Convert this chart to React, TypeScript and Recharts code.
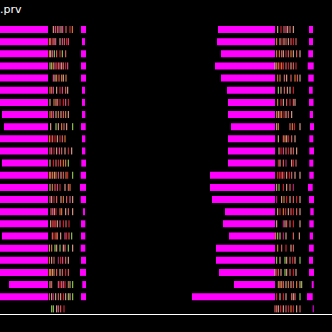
import { ComposedChart, Bar, XAxis, YAxis } from 'recharts';

// row labels (top to bottom)
const rowIds = [
  'r01', 'r02', 'r03', 'r04', 'r05', 'r06', 'r07', 'r08', 'r09', 'r10', 'r11', 'r12',
  'r13', 'r14', 'r15', 'r16', 'r17', 'r18', 'r19', 'r20', 'r21', 'r22', 'r23', 'r24',
];

const LEFT_END = 48;
const RIGHT_END = 275;
const leftTickBand = [48, 76];
const rightTickBand = [275, 303];

const leftBarStart = [0, 0, 0, 0, 0, 0, 0, 2, 4, 0, 0, 2, 0, 0, 0, 0, 0, 2, 0, 0, 0, 9, 0, null];
const rightBarStart = [
  218, 217, 221, 215, 221, 227, 228, 228, 231, 228, 228, 228,
  210, 210, 212, 225, 223, 229, 216, 216, 219, 234, 192, null,
];

const leftSqStart = [81, 82, 81, 81, 81, 82, 82, 82, 81, 82, 82, 81.3, 80.7, 80, 80.7, 83, 81, 81, 80.7, 81, 80, 82.3, 81, null];
const leftSqEnd = [86, 85, 86, 86, 86, 85, 85, 85.3, 85.7, 85.3, 85.3, 86, 86, 86, 86, 85, 85.3, 85.3, 85.3, 86, 86, 86, 86, null];
const rightSqStart = [309, 309, 308.3, 307.7, 308.3, 309, 309, 309.7, 310, 309.3, 309.3, 309.3, 309.3, 308, 309, 310.3, 309.3, 309.7, 309, 309, 309, 311.7, 307, 312.7];
const rightSqEnd = [313, 313, 313, 313.7, 313.7, 312.7, 313.5, 313, 314, 313.3, 314, 313.3, 313.7, 312.7, 314, 313.7, 313.7, 313, 313.7, 313, 314, 313.7, 312.7, 313.7];

const leftTickX = [
  [53.3, 55.3, 57.3, 59, 61, 62.7, 66, 70, 72.3],
  [49.3, 50.7, 52.3, 54, 55.7, 60, 62.3, 64.3, 66.7, 68.3],
  [49.3, 50.7, 52.3, 54.3, 56.7, 60, 62.3, 65.7],
  [50, 51.7, 53.3, 55, 56.7, 58.3, 60, 61.7, 63.3, 65.7, 67.7],
  [53.3, 55, 56.7, 59, 61.7, 63.3, 66],
  [50, 51.7, 53.3, 56.7, 60, 62.3, 65.7, 67.7],
  [50, 54, 56, 57.7, 60, 63.3, 65.7, 68.3],
  [50, 51.7, 53.3, 56, 58.3, 61, 63.3, 65.7, 68.3],
  [50.7, 56, 58.3, 61.7, 64, 66.7, 72.7],
  [49.3, 51, 52.7, 55, 57.3, 60, 62.3, 65],
  [50, 51.7, 54, 56.7, 59.3, 61.7, 65, 68.3, 71.7],
  [50, 53.3, 56, 58.3, 60.7, 63.3, 65.7, 68.3],
  [49.3, 50.7, 52.3, 54.3, 56, 58.3, 61, 63.3, 66, 67.7, 72.7],
  [50, 52.3, 55, 57.3, 60, 65, 68.3, 70],
  [50, 51.7, 54, 56.7, 61, 63.3, 66.7, 70, 72.7],
  [51, 52.7, 54.3, 56, 60, 61.7, 65.7, 68.3, 72.7],
  [50.7, 52.3, 54, 55.7, 57.3, 60, 63.3, 66, 69],
  [52.3, 54, 56, 57.3, 60.7, 65, 66.7, 69, 71.7],
  [49.3, 51.7, 55, 56.7, 60, 63.3, 65, 68.3, 72.7],
  [49.3, 51.7, 54, 58.3, 60.7, 62.7, 65.7, 68.3],
  [49.3, 50.7, 52.3, 54, 56.7, 60, 62.3, 65.7, 68.3],
  [50, 51.7, 58.3, 60, 61.7, 63.3, 65, 68.3, 70, 72.7],
  [49.3, 51.7, 53.3, 55.7, 58.3, 60.7, 63.3, 65.7, 68.3, 70, 72.7],
  [51.7, 53.3, 56.7, 58.3, 60.7, 64],
];
const leftTickC = [
  'cpspcpsro', 'osrcpcpsrp', 'ocpgsrgs', 'cgoprspcsrp', 'pcosoco', 'ospcrpsc',
  'cocsrrpr', 'ospcocsoc', 'cgcoscg', 'orsrcrso', 'sprcpscrc', 'crsrsoog',
  'osocopcsorg', 'cosprcso', 'pcrscospc', 'spcrsocsc', 'crsrcprsr', 'sroscprsg',
  'cogcgcsgc', 'ocsmrpsc', 'oocoscsrs', 'csprsprsgg', 'pcmcscrcgcg', 'ggcpsr',
];

const rightTickX = [
  [277.7, 281, 284, 286, 287.7, 290, 293.3],
  [276.7, 280, 282, 284, 286, 288.3, 291, 293.3, 296],
  [276.7, 279.3, 281.7, 283.3, 286, 288.3, 291, 293.3, 296.7, 300],
  [275, 276.7, 278.3, 280, 281.7, 283.3, 286, 288.3, 291, 293.3, 296],
  [277.7, 280, 284.3, 286.7, 291, 295, 297.3, 300],
  [278.3, 281, 284.3, 287.3, 290, 293.3],
  [277.7, 281, 283.3, 286.7, 290, 293.3, 295],
  [276.7, 278.3, 280, 281.7, 284, 286, 288.3, 291.7],
  [276.7, 278.3, 290, 292.3, 294.3, 300],
  [278.3, 283.3, 285, 286.7, 288.3, 291.7, 295],
  [279, 281, 283.3, 286, 288.3, 291, 293.3, 296.7],
  [278.3, 280, 283.3, 286, 291.7, 293.3, 296],
  [277.7, 279.3, 281, 282.3, 284, 286.7, 289.3, 291.7, 295, 300],
  [276.7, 279, 283.3, 286.7, 290, 293.3],
  [276.7, 281.7, 284, 286.7, 290, 293.3, 296.7, 300],
  [277.7, 280, 283.3, 285.7, 288.3, 291, 293.3, 296.7, 300],
  [276.7, 283.3, 285, 286.7, 290, 293.3, 300],
  [275.7, 277.7, 280, 283.3, 286, 293.3, 299.3],
  [277.7, 281.7, 286, 291, 293.3],
  [276.7, 280, 285, 286.7, 290, 292.7, 295, 300],
  [275, 276.7, 278.3, 281, 285, 286.7, 290, 293.3, 296],
  [278.3, 280, 281.7, 283.3, 286, 288.3, 291, 293.3, 296.7, 300, 301.7],
  [276.7, 280, 283.3, 286, 291.7, 293.3, 295, 300],
  [275, 276.7, 278.3, 280.7, 283.3, 286, 288.3, 291, 293.3, 296.7, 300],
];
const rightTickC = [
  'crspcsc', 'ocrcscsrs', 'ooscrsocsc', 'cosrorsrcsr', 'soscsosc', 'gcsccr',
  'orcsrsc', 'ocsorcsc', 'cosorc', 'csocrsc', 'crpsrcsc', 'rcsmcrs',
  'rrrsrcrscc', 'cgrcsm', 'mcorcsrc', 'crorcsrsc', 'cmcssrc', 'ogcmcsc',
  'osrcs', 'gcgcsrcg', 'crscgcsrc', 'ocoscocsocg', 'rcrcscsg', 'sscrcsrorcs',
];

const tickColors: Record<string, string> = {
  o: '#ff8a3c',
  r: '#f02838',
  p: '#ff5c9c',
  g: '#a8e060',
  c: '#ffb4a0',
  s: '#ff6c6c',
  m: '#d02880',
};

const MAGENTA = '#ff00ff';

const data = rowIds.map((row, i) => ({
  row,
  leftBar: leftBarStart[i] == null ? null : [leftBarStart[i], LEFT_END],
  leftTicks: leftTickBand,
  leftTickX: leftTickX[i],
  leftTickC: leftTickC[i],
  leftSq: leftSqStart[i] == null ? null : [leftSqStart[i], leftSqEnd[i]],
  rightBar: rightBarStart[i] == null ? null : [rightBarStart[i], RIGHT_END],
  rightTicks: rightTickBand,
  rightTickX: rightTickX[i],
  rightTickC: rightTickC[i],
  rightSq: rightSqStart[i] == null ? null : [rightSqStart[i], rightSqEnd[i]],
}));

// draws the thin coloured ticks inside the band that the bar spans
function tickShape(xKey: string, cKey: string, band: number[]) {
  return (props: any) => {
    const { x, y, width, height, payload } = props;
    const xs: number[] = payload[xKey] || [];
    const cs: string = payload[cKey] || '';
    if (!width) return <g />;
    const k = width / (band[1] - band[0]);
    return (
      <g>
        {xs.map((t, i) => (
          <rect
            key={i}
            x={x + (t - band[0]) * k - 0.5}
            y={y}
            width={1}
            height={height}
            fill={tickColors[cs[i]] || '#ffb4a0'}
          />
        ))}
      </g>
    );
  };
}

export default function App() {
  return (
    <div style={{ position: 'fixed', left: 0, top: 0, width: 332, height: 332, background: '#000', overflow: 'hidden' }}>
      <ComposedChart
        width={332}
        height={332}
        data={data}
        layout="vertical"
        barSize={7}
        barGap={-7}
        margin={{ top: 23, right: 0, left: 0, bottom: 16.5 }}
      >
        <XAxis
          type="number"
          domain={[0, 332]}
          allowDataOverflow
          height={1}
          tick={false}
          tickLine={false}
          axisLine={{ stroke: '#ffffff', strokeWidth: 1 }}
        />
        <YAxis type="category" dataKey="row" hide />
        <Bar dataKey="leftBar" fill={MAGENTA} isAnimationActive={false} />
        <Bar dataKey="leftTicks" fill="none" shape={tickShape('leftTickX', 'leftTickC', leftTickBand)} isAnimationActive={false} />
        <Bar dataKey="leftSq" fill={MAGENTA} isAnimationActive={false} />
        <Bar dataKey="rightBar" fill={MAGENTA} isAnimationActive={false} />
        <Bar dataKey="rightTicks" fill="none" shape={tickShape('rightTickX', 'rightTickC', rightTickBand)} isAnimationActive={false} />
        <Bar dataKey="rightSq" fill={MAGENTA} isAnimationActive={false} />
      </ComposedChart>
      <div
        style={{
          position: 'absolute',
          left: 0,
          top: 3,
          color: '#fff',
          fontFamily: '"DejaVu Sans", sans-serif',
          fontSize: 11,
          lineHeight: '13px',
        }}
      >
        .prv
      </div>
    </div>
  );
}
